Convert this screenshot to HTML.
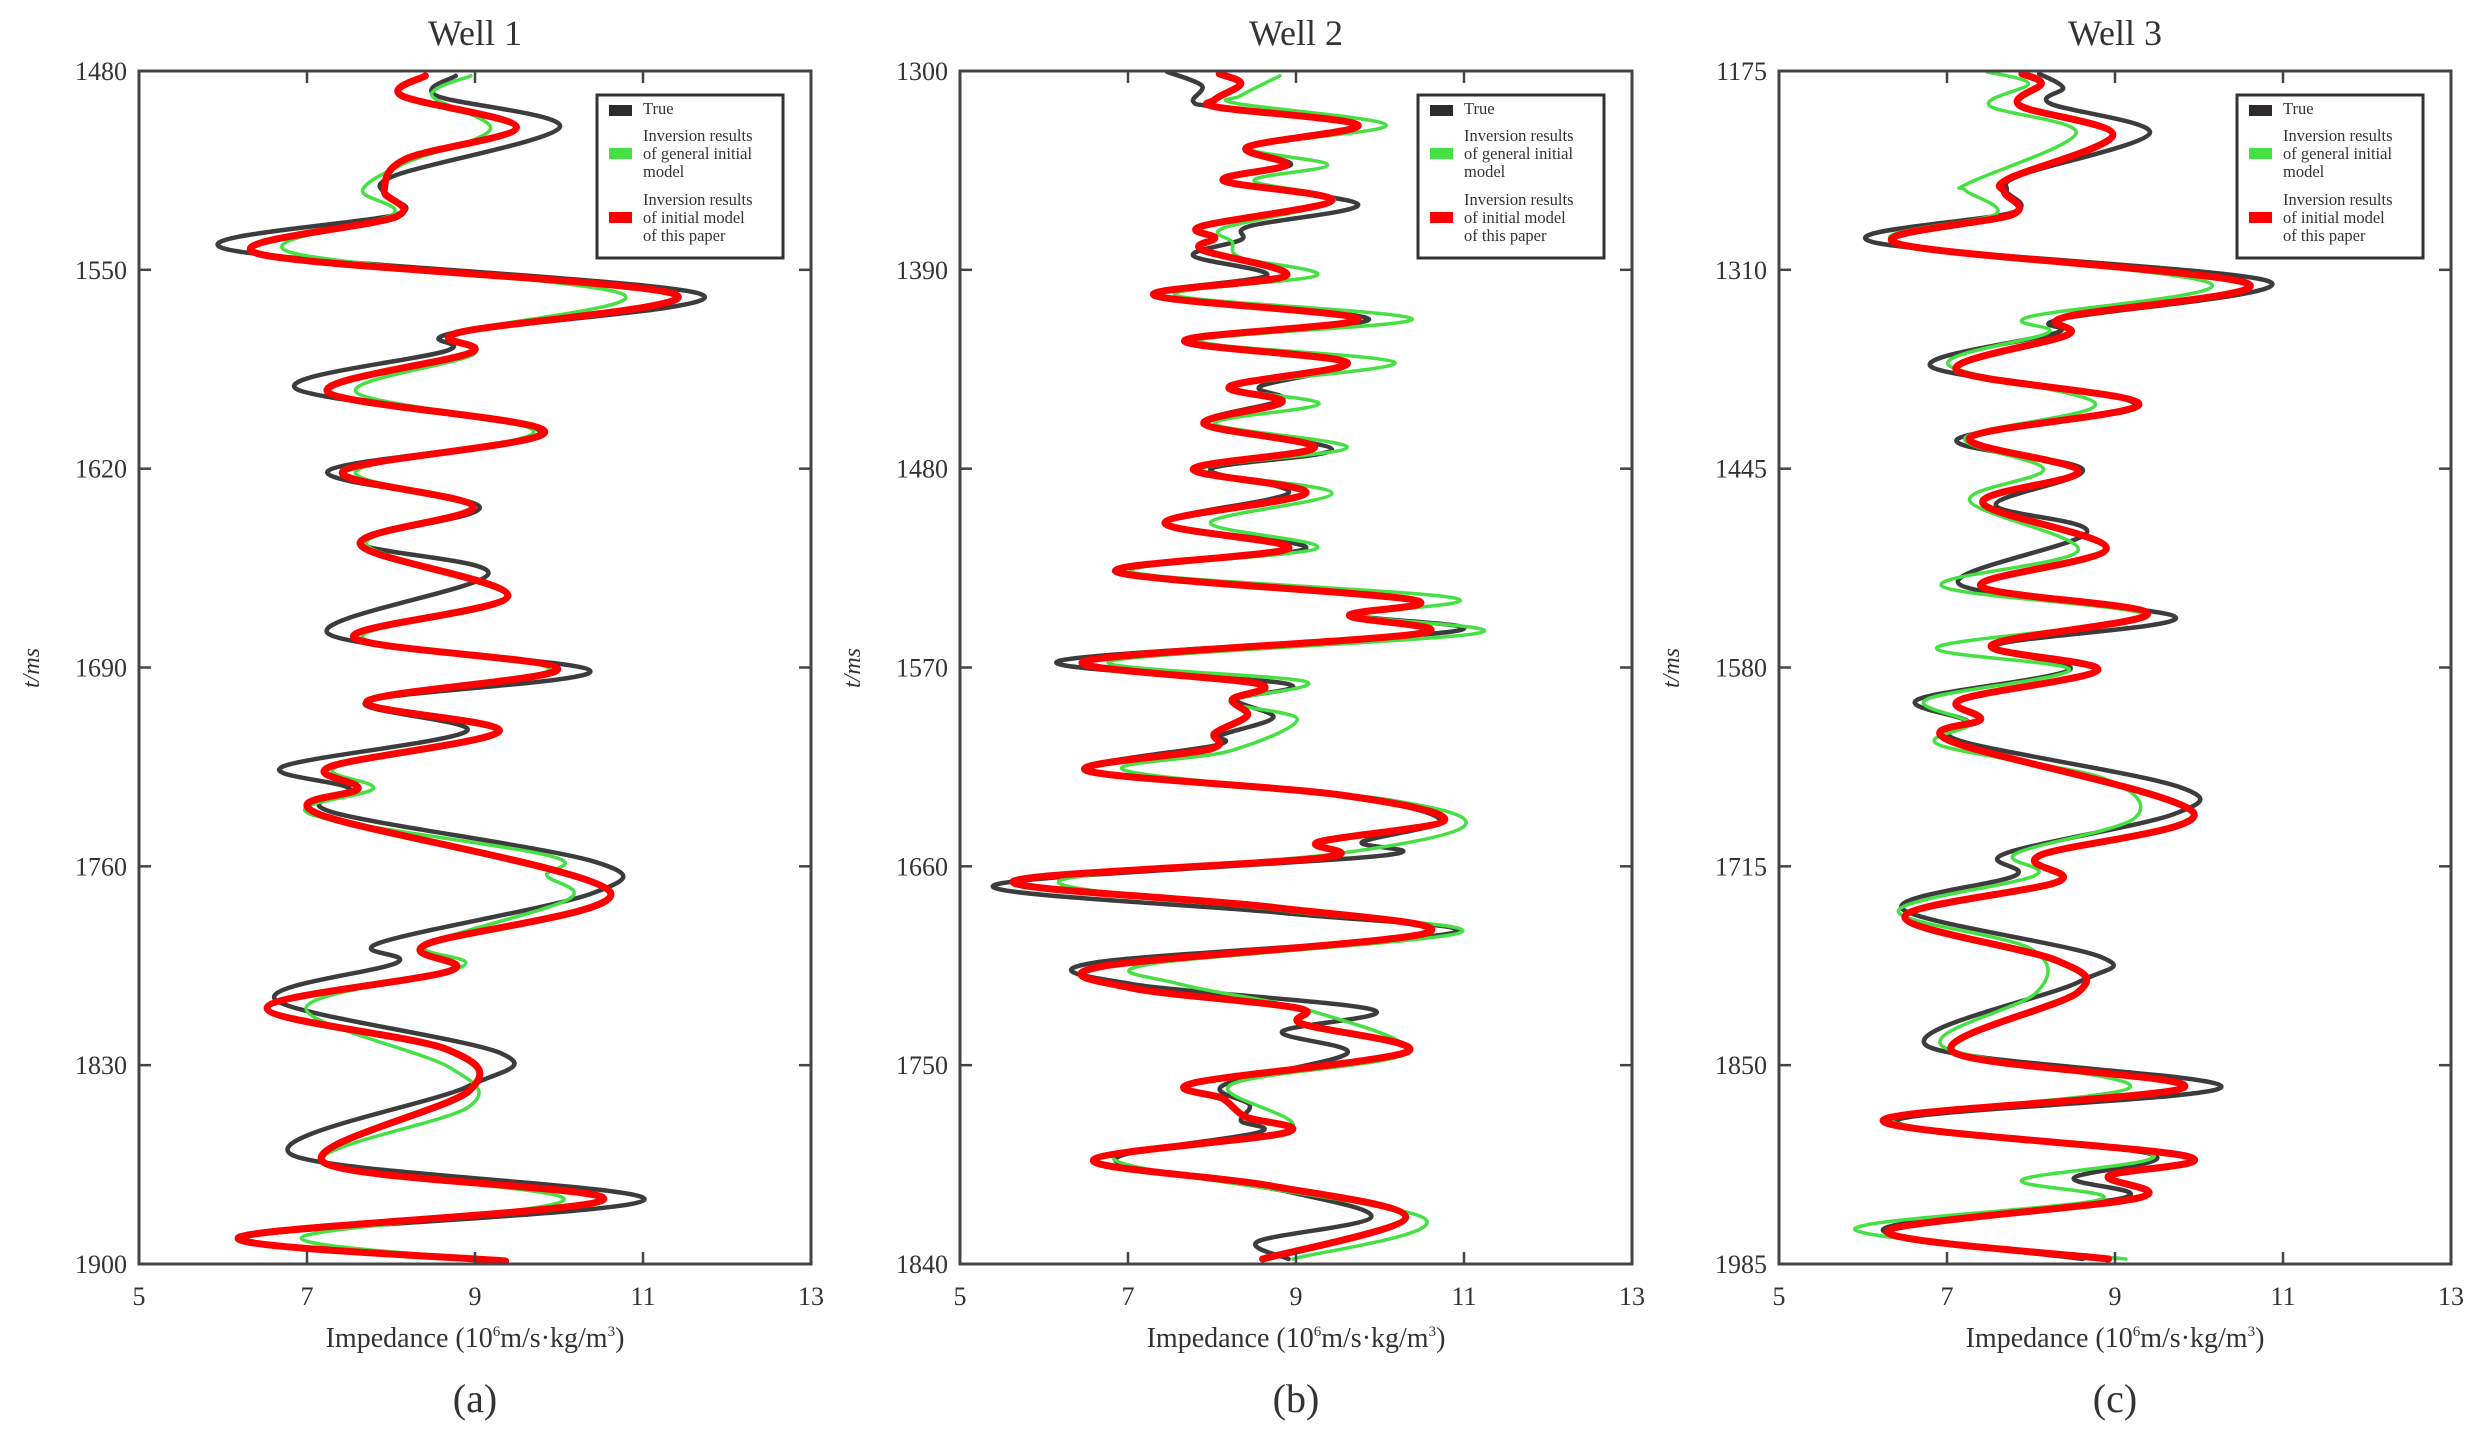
<!DOCTYPE html>
<html><head><meta charset="utf-8">
<style>
html,body{margin:0;padding:0;background:#fff;}
svg{display:block;}
text{font-family:"Liberation Serif",serif;fill:#333;}
</style></head>
<body>
<svg id="s" width="2480" height="1440" viewBox="0 0 2480 1440" xmlns="http://www.w3.org/2000/svg"></svg>
<script>
const S=document.getElementById('s');
const T=71,B=1264,W=672;
const lefts=[139,960,1779];
const titles=['Well 1','Well 2','Well 3'];
const yl=[[1480,1550,1620,1690,1760,1830,1900],[1300,1390,1480,1570,1660,1750,1840],[1175,1310,1445,1580,1715,1850,1985]];
const crops=[137,959,1779];
const fx=680/1568, fy=620/1568;
const D=[
{k:{t:[[735,40],[690,90],[975,170],[600,290],[570,340],[600,390],[205,478],[1300,592],[730,690],[715,735],[365,830],[930,940],[440,1040],[790,1130],[515,1220],[810,1300],[440,1450],[1045,1545]],
    b:[[530,105],[760,180],[335,270],[490,325],[450,385],[1055,510],[1050,590],[560,715],[600,765],[320,860],[840,995],[760,1080],[355,1250],[1170,1365],[250,1460],[850,1520]]},
 g:{t:[[770,40],[680,90],[815,175],[620,260],[520,330],[590,390],[350,485],[1120,592],[740,690],[775,745],[505,840],[915,940],[505,1040],[770,1130],[530,1225],[860,1355],[520,1460],[950,1540]],
    b:[[530,105],[840,180],[460,270],[545,325],[400,390],[950,495],[945,545],[995,605],[670,720],[750,775],[390,880],[720,1030],[765,1130],[430,1270],[985,1365],[380,1460],[850,1520]]},
 r:{t:[[665,40],[610,90],[875,170],[620,250],[570,330],[600,395],[280,490],[1240,592],[740,690],[770,740],[440,840],[940,940],[475,1040],[775,1130],[515,1225],[855,1355],[500,1460],[970,1540]],
    b:[[530,105],[835,180],[445,270],[510,325],[420,390],[1090,585],[665,720],[725,785],[300,880],[715,985],[765,1090],[430,1270],[1075,1365],[235,1460],[850,1520]]}},
{k:{t:[[480,30],[560,65],[540,105],[600,120],[920,165],[665,220],[765,265],[610,305],[920,365],[670,420],[650,455],[540,495],[710,545],[450,595],[945,655],[520,710],[895,765],[695,825],[745,860],[565,920],[860,985],[580,1035],[760,1095],[475,1170],[800,1235],[360,1295],[1040,1365],[920,1405],[1140,1445],[230,1520]],
    b:[[755,60],[640,100],[725,145],[605,190],[595,215],[295,280],[870,340],[1110,405],[930,460],[975,495],[80,570],[750,640],[1140,690],[315,765],[400,820],[955,885],[745,940],[895,995],[610,1075],[670,1125],[650,1165],[690,1195],[360,1265],[760,1345],[950,1410],[690,1470],[760,1515]]},
 g:{t:[[740,40],[650,90],[640,110],[985,165],[670,220],[850,265],[680,305],[865,355],[610,425],[630,460],[650,500],[825,545],[500,595],[1045,655],[555,710],[1005,765],[640,825],[830,870],[590,920],[895,980],[560,1035],[860,1095],[580,1170],[825,1235],[400,1295],[1140,1360],[930,1405],[1195,1450],[350,1520]],
    b:[[800,55],[625,105],[780,150],[625,230],[385,280],[1000,355],[1165,420],[870,490],[230,560],[760,635],[1155,690],[435,770],[510,820],[820,890],[1030,995],[625,1075],[765,1185],[360,1265],[1070,1410],[770,1515]]},
 r:{t:[[600,35],[650,60],[590,100],[600,120],[920,165],[665,220],[755,265],[610,305],[860,355],[560,420],[590,450],[560,480],[755,545],[450,595],[920,655],[520,710],[895,765],[625,825],[745,865],[565,920],[820,980],[540,1035],[800,1095],[475,1170],[760,1235],[365,1295],[1045,1365],[900,1405],[1065,1450],[290,1520]],
    b:[[690,60],[630,100],[665,140],[590,185],[580,225],[295,280],[870,340],[1120,405],[830,460],[840,500],[125,560],[720,625],[1080,690],[330,775],[400,830],[780,880],[790,920],[1035,990],[540,1070],[610,1110],[660,1155],[755,1195],[310,1265],[720,1330],[1030,1410],[700,1515]]}},
{k:{t:[[600,35],[655,70],[625,110],[855,185],[560,290],[525,330],[540,385],[215,460],[1130,560],[650,655],[640,690],[350,775],[820,870],[410,960],[700,1035],[500,1125],[710,1195],[415,1325],[915,1410],[500,1480]],
    b:[[670,25],[320,100],[435,155],[420,205],[920,320],[910,390],[520,490],[545,545],[285,630],[740,750],[690,815],[340,975],[1020,1080],[270,1165],[860,1250],[680,1310],[795,1360],[240,1440],[700,1515]]},
 g:{t:[[480,30],[575,60],[485,115],[685,185],[440,310],[430,330],[500,390],[270,460],[995,565],[575,650],[620,690],[390,770],[730,870],[430,955],[610,1035],[440,1115],[690,1240],[375,1330],[840,1405],[365,1485]],
    b:[[670,25],[340,100],[440,160],[370,215],[750,300],[820,400],[545,490],[590,545],[275,635],[580,730],[595,840],[375,975],[810,1080],[260,1165],[860,1250],[560,1315],[740,1365],[175,1440],[800,1515]]},
 r:{t:[[560,35],[605,60],[555,115],[770,190],[530,300],[520,335],[540,390],[275,465],[1080,565],[660,650],[665,695],[410,785],[830,870],[440,955],[690,1040],[470,1120],[755,1235],[465,1330],[850,1400],[490,1480]],
    b:[[735,25],[420,100],[465,150],[395,205],[955,385],[600,495],[645,560],[290,650],[640,760],[690,840],[400,990],[935,1080],[240,1165],[940,1255],[760,1305],[830,1360],[250,1445],[760,1515]]}}
];
function conv(i,s){const cx=crops[i];const p=[];s.t.forEach(q=>p.push([cx+q[0]*fx,60+q[1]*fy]));s.b.forEach(q=>p.push([cx+q[0]*fx,660+q[1]*fy]));return p;}
function path(p){let d='M'+p[0][0].toFixed(1)+','+p[0][1].toFixed(1);
 for(let i=0;i<p.length-1;i++){const p0=p[i-1]||p[i],p1=p[i],p2=p[i+1],p3=p[i+2]||p2;
  const c1=[p1[0]+(p2[0]-p0[0])/6,p1[1]+(p2[1]-p0[1])/6],c2=[p2[0]-(p3[0]-p1[0])/6,p2[1]-(p3[1]-p1[1])/6];
  d+=' C'+c1.map(v=>v.toFixed(1))+' '+c2.map(v=>v.toFixed(1))+' '+p2.map(v=>v.toFixed(1));}
 return d;}
let h='';
for(let i=0;i<3;i++){
 const L=lefts[i],R=L+W,cx=L+W/2;
 h+=`<clipPath id="c${i}"><rect x="${L}" y="${T}" width="${W}" height="${B-T}"/></clipPath>`;
 h+=`<text x="${cx}" y="45" font-size="36" text-anchor="middle">${titles[i]}</text>`;
 h+=`<g clip-path="url(#c${i})" fill="none" stroke-linejoin="round" stroke-linecap="round">`;
 h+=`<path d="${path(conv(i,D[i].k))}" stroke="#3c3c3c" stroke-width="4.5"/>`;
 h+=`<path d="${path(conv(i,D[i].g))}" stroke="#44e044" stroke-width="3.5"/>`;
 h+=`<path d="${path(conv(i,D[i].r))}" stroke="#ff0000" stroke-width="7"/>`;
 h+=`</g>`;
 h+=`<rect x="${L}" y="${T}" width="${W}" height="${B-T}" fill="none" stroke="#444" stroke-width="3"/>`;
 for(let k=0;k<=4;k++){const x=L+k*W/4;
  if(k>0&&k<4){h+=`<line x1="${x}" y1="${T}" x2="${x}" y2="${T+12}" stroke="#444" stroke-width="2.5"/><line x1="${x}" y1="${B}" x2="${x}" y2="${B-12}" stroke="#444" stroke-width="2.5"/>`;}
  h+=`<text x="${x}" y="1305" font-size="26" text-anchor="middle">${5+2*k}</text>`;}
 for(let k=0;k<=6;k++){const y=T+k*(B-T)/6;
  if(k>0&&k<6){h+=`<line x1="${L}" y1="${y}" x2="${L+12}" y2="${y}" stroke="#444" stroke-width="2.5"/><line x1="${R}" y1="${y}" x2="${R-12}" y2="${y}" stroke="#444" stroke-width="2.5"/>`;}
  h+=`<text x="${L-12}" y="${y+9}" font-size="26" text-anchor="end">${yl[i][k]}</text>`;}
 h+=`<text transform="translate(${L-100},668) rotate(-90)" font-size="24" font-style="italic" text-anchor="middle">t/ms</text>`;
 h+=`<text x="${cx}" y="1347" font-size="28" text-anchor="middle">Impedance (10<tspan font-size="15" dy="-11">6</tspan><tspan dy="11">m/s·kg/m</tspan><tspan font-size="15" dy="-11">3</tspan><tspan dy="11">)</tspan></text>`;
 h+=`<text x="${cx}" y="1412" font-size="40" text-anchor="middle">(${'abc'[i]})</text>`;
 const lx=L+458,ly=95;
 h+=`<rect x="${lx}" y="${ly}" width="186" height="163" fill="#fff" stroke="#333" stroke-width="3"/>`;
 h+=`<rect x="${lx+12}" y="${ly+10}" width="23" height="11" fill="#2e2a2a"/>`;
 h+=`<rect x="${lx+12}" y="${ly+53}" width="23" height="11" fill="#44e044"/>`;
 h+=`<rect x="${lx+12}" y="${ly+117}" width="23" height="11" fill="#ff0000"/>`;
 const tl=[['True',19],['Inversion results',46],['of general initial',64],['model',82],['Inversion results',110],['of initial model',128],['of this paper',146]];
 tl.forEach(t=>{h+=`<text x="${lx+46}" y="${ly+t[1]}" font-size="16.5" fill="#444">${t[0]}</text>`;});
}
S.innerHTML=h;
</script>
</body></html>
